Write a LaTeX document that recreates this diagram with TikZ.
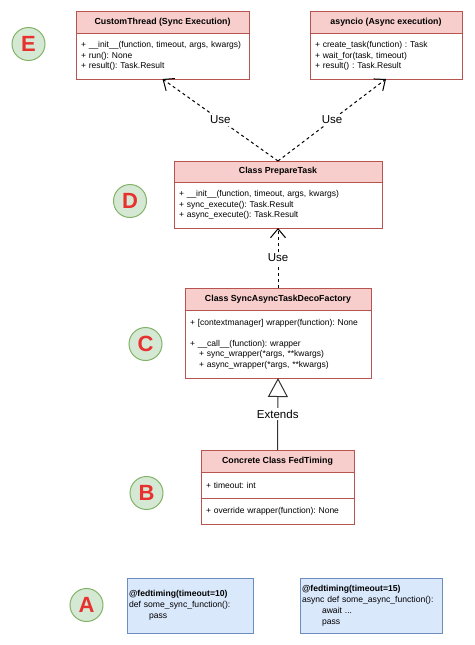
\documentclass[tikz,border=0pt]{standalone}
\usepackage{fontspec}
\setmainfont{Liberation Sans}
\usetikzlibrary{arrows.meta,positioning}
\frenchspacing

\definecolor{headfill}{HTML}{F8CECC}
\definecolor{headline}{HTML}{B85450}
\definecolor{notefill}{HTML}{DAE8FC}
\definecolor{noteline}{HTML}{6C8EBF}
\definecolor{dotfill}{HTML}{D5E8D4}
\definecolor{dotline}{HTML}{82B366}
\definecolor{letterred}{HTML}{E8312F}

\tikzset{
  classhead/.style={draw=headline, fill=headfill, line width=1pt, outer sep=0pt,
    inner sep=0pt, minimum height=22pt, anchor=north west,
    font=\fontsize{8.8}{10}\selectfont\bfseries},
  classbody/.style={draw=headline, fill=white, line width=1pt, outer sep=0pt,
    inner xsep=5pt, inner ysep=0pt, align=left, anchor=north west,
    font=\fontsize{8.5}{10.5}\selectfont},
  codebox/.style={draw=noteline, fill=notefill, line width=1pt, outer sep=0pt,
    inner xsep=2pt, inner ysep=0pt, minimum height=55pt, align=left,
    anchor=north west, font=\fontsize{8.6}{11}\selectfont},
  letterdot/.style={circle, draw=dotline, fill=dotfill, line width=1pt,
    minimum size=33pt, inner sep=0pt, text=letterred,
    font=\fontsize{22}{22}\selectfont\bfseries},
  usearrow/.style={dash pattern=on 3pt off 3pt, line width=1pt,
    -{Straight Barb[length=9pt,width=15pt]}},
  extendarrow/.style={line width=1pt, draw=black!80,
    -{Triangle[open,length=19pt,width=20pt,fill=white]}},
  linklabel/.style={fill=white, inner sep=1.5pt, font=\fontsize{11.5}{12}\selectfont}
}

\begin{document}
\begin{tikzpicture}[x=1pt,y=-1pt]
    \useasboundingbox[fill=white] (0,0) rectangle (474,645);

    % E: the two executors
    \node[classhead, minimum width=173pt] (threadhead) at (76,11) {CustomThread (Sync Execution)};
    \node[classbody, text width=163pt, minimum height=46pt] (threadbody) at (threadhead.south west)
        {+ \_\_init\_\_(function, timeout, args, kwargs)\\+ run(): None\\+ result(): Task.Result};

    \node[classhead, minimum width=152pt] (aiohead) at (310,11) {asyncio (Async execution)};
    \node[classbody, text width=142pt, minimum height=46pt] (aiobody) at (aiohead.south west)
        {+ create\_task(function) : Task\\+ wait\_for(task, timeout)\\+ result() : Task.Result};

    % D: PrepareTask
    \node[classhead, minimum width=208pt, minimum height=21pt] (prephead) at (174,161) {Class PrepareTask};
    \node[classbody, text width=198pt, minimum height=46pt] (prepbody) at (prephead.south west)
        {+ \_\_init\_\_(function, timeout, args, kwargs)\\+ sync\_execute(): Task.Result\\+ async\_execute(): Task.Result};

    % C: the factory
    \node[classhead, minimum width=186pt] (facthead) at (185,288) {Class SyncAsyncTaskDecoFactory};
    \node[classbody, text width=176pt, minimum height=68pt] (factbody) at (facthead.south west)
        {+ [contextmanager] wrapper(function): None\\[10.5pt]
         + \_\_call\_\_(function): wrapper\\
         \hspace*{9pt}+ sync\_wrapper(*args, **kwargs)\\
         \hspace*{9pt}+ async\_wrapper(*args, **kwargs)};

    % B: FedTiming
    \node[classhead, minimum width=153pt] (fedhead) at (201,450) {Concrete Class FedTiming};
    \node[classbody, text width=143pt, minimum height=26pt] (fedattr) at (fedhead.south west)
        {+ timeout: int};
    \node[classbody, text width=143pt, minimum height=26pt] (fedops) at (fedattr.south west)
        {+ override wrapper(function): None};

    % A: usage
    \node[codebox, text width=122pt] (syncuse) at (127,578)
        {\textbf{@fedtiming(timeout=10)}\\def some\_sync\_function():\\\hspace*{20pt}pass};
    \node[codebox, text width=138pt] (asyncuse) at (300,578)
        {\textbf{@fedtiming(timeout=15)}\\async def some\_async\_function():\\\hspace*{20pt}await ...\\\hspace*{20pt}pass};

    % letters
    \node[letterdot] (lete) at (28.5,44) {E};
    \node[letterdot] (letd) at (130,201) {D};
    \node[letterdot] (letc) at (145.5,344) {C};
    \node[letterdot] (letb) at (146.5,493) {B};
    \node[letterdot] (leta) at (86.5,605) {A};

    % links
    \draw[usearrow] (prephead.north) -- (threadbody.south) node[linklabel, midway] {Use};
    \draw[usearrow] (prephead.north) -- (aiobody.south) node[linklabel, midway] {Use};
    \draw[usearrow] (facthead.north) -- (prepbody.south) node[linklabel, midway] {Use};
    \draw[extendarrow] (fedhead.north) -- (factbody.south) node[linklabel, midway] {Extends};
\end{tikzpicture}
\end{document}
